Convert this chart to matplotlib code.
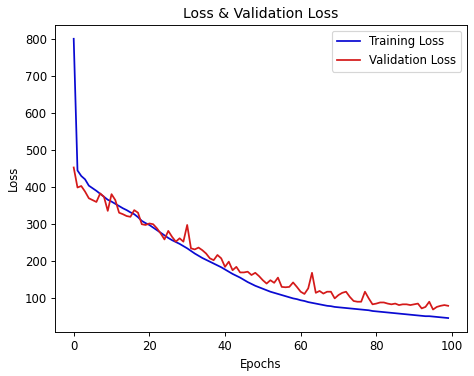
import matplotlib
matplotlib.use('Agg')
import matplotlib.pyplot as plt

# training loss per epoch
train_loss = [800, 445, 430, 421, 404, 397, 390, 382, 374, 366,
              361, 355, 349, 343, 338, 332, 327, 319, 309, 303,
              298, 291, 284, 277, 270, 263, 257, 252, 247, 241,
              235, 228, 221, 215, 209, 204, 199, 194, 189, 184,
              178, 172, 166, 161, 156, 150, 144, 139, 134, 130,
              126, 122, 118, 115, 112, 109, 106, 103, 100, 98,
              95, 93, 90, 88, 86, 84, 82, 80, 79, 77,
              76, 75, 74, 73, 72, 71, 70, 69, 68, 66,
              65, 64, 63, 62, 61, 60, 59, 58, 57, 56,
              55, 54, 53, 52, 52, 51, 50, 49, 48, 47]

# validation loss per epoch
val_loss = [453, 399, 403, 388, 370, 365, 360, 383, 374, 336,
            381, 365, 331, 327, 322, 320, 338, 331, 300, 298,
            302, 300, 289, 275, 259, 282, 266, 253, 262, 253,
            298, 235, 232, 237, 230, 221, 208, 203, 217, 208,
            185, 199, 176, 185, 170, 170, 172, 163, 169, 160,
            149, 140, 149, 142, 156, 131, 130, 131, 143, 131,
            118, 112, 127, 169, 115, 120, 113, 118, 118, 100,
            109, 115, 118, 104, 93, 91, 91, 118, 100, 84,
            86, 89, 89, 86, 84, 86, 82, 84, 84, 82,
            84, 86, 73, 77, 91, 70, 77, 80, 82, 80]

epochs = list(range(len(train_loss)))

dpi = 84
fig = plt.figure(figsize=(474 / dpi, 376 / dpi), dpi=dpi)
ax = fig.add_axes([0.116, 0.117, 0.869, 0.817])

ax.plot(epochs, train_loss, color='#0a0ad2', label='Training Loss')
ax.plot(epochs, val_loss, color='#d41a1a', label='Validation Loss')

ax.set_title('Loss & Validation Loss')
ax.set_xlabel('Epochs')
ax.set_ylabel('Loss')
ax.legend(loc='upper right')

fig.savefig('out.png', dpi=dpi)
